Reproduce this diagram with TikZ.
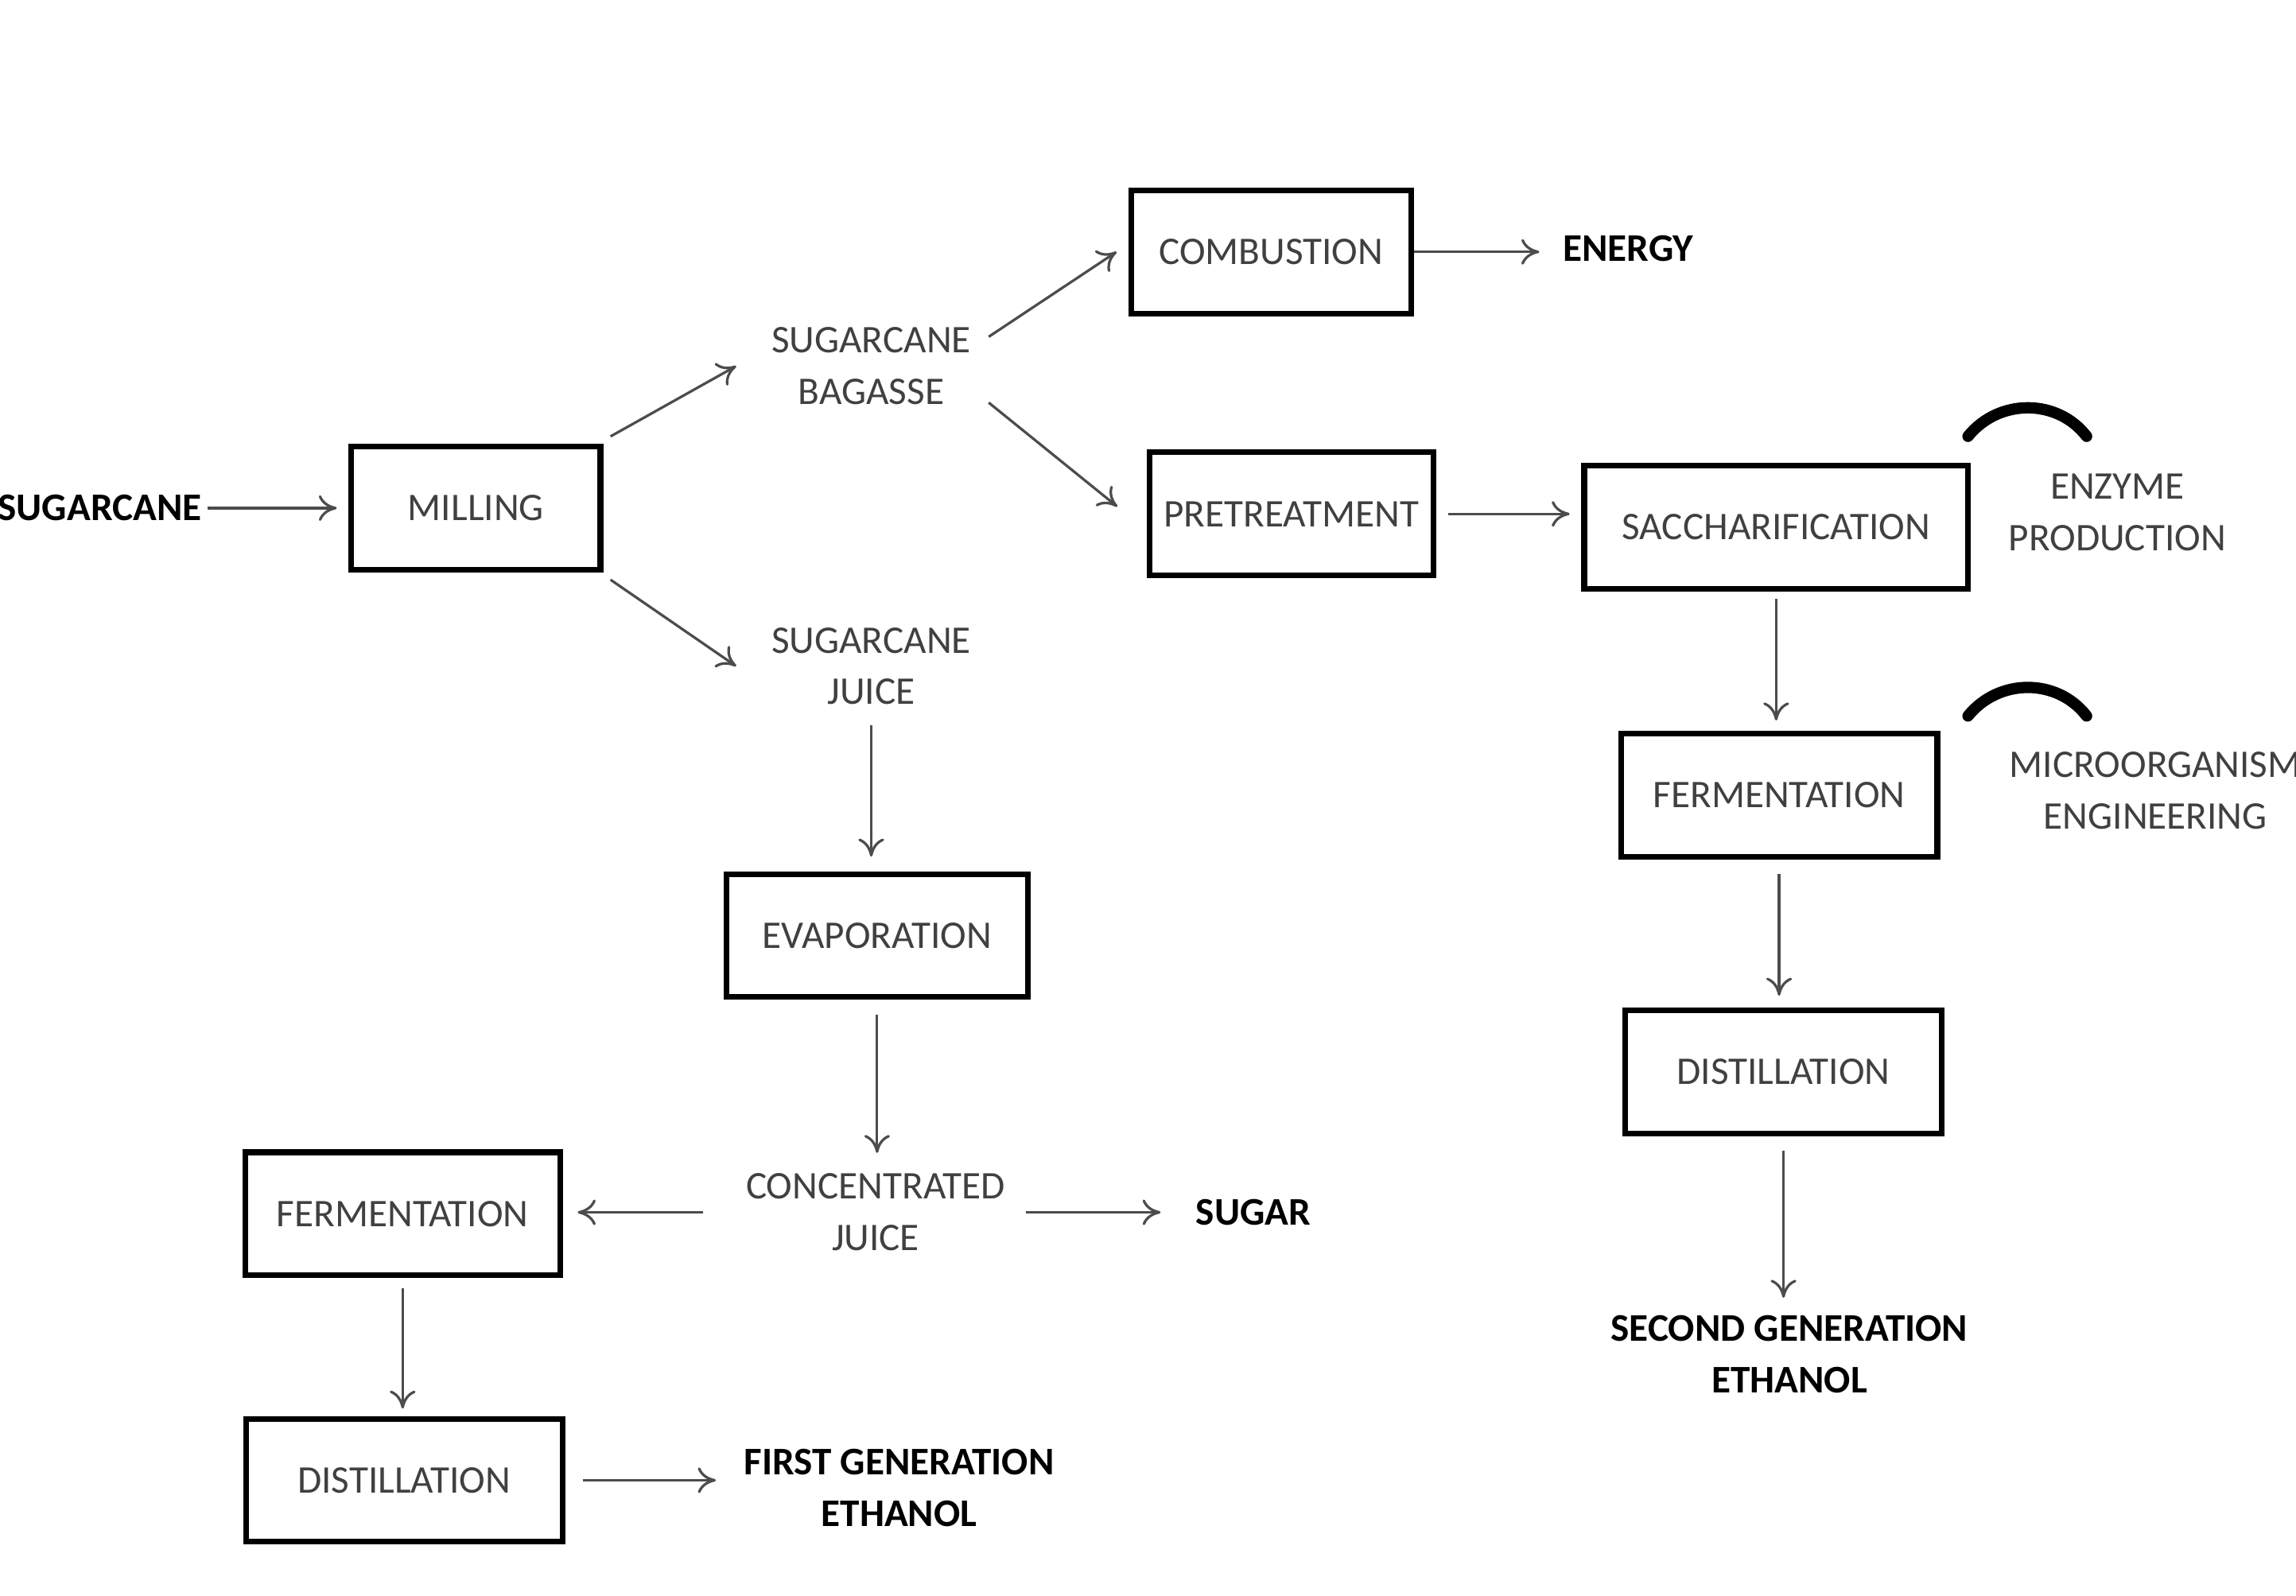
\documentclass[tikz,border=0pt]{standalone}
\usepackage{fontspec}
\setmainfont{Carlito}
\usetikzlibrary{arrows.meta}
\begin{document}
\begin{tikzpicture}[x=0.01cm,y=-0.01cm,
  box/.style={draw,line width=1.1pt,minimum height=0.84cm,inner sep=0pt,font=\fontsize{7.6}{9.5}\selectfont,text=black!75},
  lbl/.style={align=center,font=\fontsize{7.6}{10}\selectfont,text=black!75,inner sep=1pt},
  bold/.style={align=center,font=\fontsize{7.6}{10}\selectfont\bfseries,inner sep=1pt},
  arr/.style={-{To[length=3.5pt,width=5pt]},draw=black!70,line width=0.5pt},
  arc/.style={line width=2.2pt,line cap=round}]
\useasboundingbox (0,0) rectangle (1568,1090);
\node[bold,anchor=east] (cane) at (142,347) {SUGARCANE};
\node[box,minimum width=1.7cm] (mill) at (325,347) {MILLING};
\node[lbl] (bag) at (595,250) {SUGARCANE\\BAGASSE};
\node[lbl] (juice) at (595,455) {SUGARCANE\\JUICE};
\node[box,minimum width=1.91cm] (comb) at (868,172) {COMBUSTION};
\node[bold] (energy) at (1112,170) {ENERGY};
\node[box,minimum width=1.94cm] (pre) at (882,351) {PRETREATMENT};
\node[box,minimum width=2.62cm] (sac) at (1213,360) {SACCHARIFICATION};
\node[lbl] (enz) at (1446,350) {ENZYME\\PRODUCTION};
\node[box,minimum width=2.16cm] (ferm2) at (1215,543) {FERMENTATION};
\node[lbl] (micro) at (1472,540) {MICROORGANISM\\ENGINEERING};
\node[box,minimum width=2.16cm] (dist2) at (1218,732) {DISTILLATION};
\node[bold] (second) at (1222,925) {SECOND GENERATION\\ETHANOL};
\node[box,minimum width=2.06cm] (evap) at (599,639) {EVAPORATION};
\node[lbl] (conc) at (598,828) {CONCENTRATED\\JUICE};
\node[bold] (sugar) at (856,828) {SUGAR};
\node[box,minimum width=2.15cm] (ferm1) at (275,829) {FERMENTATION};
\node[box,minimum width=2.16cm] (dist1) at (276,1011) {DISTILLATION};
\node[bold] (first) at (614,1016) {FIRST GENERATION\\ETHANOL};
% arcs
\draw[arc] (1344,298) .. controls (1365,272) and (1405,272) .. (1425,298);
\draw[arc] (1344,489) .. controls (1365,463) and (1405,463) .. (1425,489);
% arrows
\draw[arr] (cane.east) -- ([xshift=-0.08cm]mill.west);
\draw[arr] ([shift={(5,-5)}]mill.north east) -- ([shift={(-20,0)}]bag.west);
\draw[arr] ([shift={(5,5)}]mill.south east) -- ([shift={(-20,0)}]juice.west);
\draw[arr] ([shift={(8,-20)}]bag.east) -- ([shift={(-8,0)}]comb.west);
\draw[arr] ([shift={(8,25)}]bag.east) -- ([shift={(-20,-5)}]pre.west);
\draw[arr] (comb.east) -- ([xshift=-0.12cm]energy.west|-comb.east);
\draw[arr] ([xshift=0.08cm]pre.east) -- ([xshift=-0.08cm]sac.west|-pre.east);
\draw[arr] ([yshift=-0.05cm]sac.south) -- ([shift={(0,0.07cm)}]sac.south|-ferm2.north);
\draw[arr] ([yshift=-0.1cm]ferm2.south) -- ([yshift=0.08cm]ferm2.south|-dist2.north);
\draw[arr] ([yshift=-0.1cm]dist2.south) -- ([yshift=0.08cm]dist2.south|-second.north);
\draw[arr] ([yshift=-0.1cm]juice.south) -- ([yshift=0.1cm]juice.south|-evap.north);
\draw[arr] ([yshift=-0.1cm]evap.south) -- ([yshift=0.1cm]evap.south|-conc.north);
\draw[arr] ([xshift=-0.25cm]conc.west) -- ([xshift=0.1cm]ferm1.east|-conc.west);
\draw[arr] ([xshift=0.1cm]conc.east) -- ([xshift=-0.2cm]sugar.west|-conc.east);
\draw[arr] ([yshift=-0.07cm]ferm1.south) -- ([yshift=0.05cm]ferm1.south|-dist1.north);
\draw[arr] ([xshift=0.12cm]dist1.east) -- ([xshift=-0.15cm]first.west|-dist1.east);
\end{tikzpicture}
\end{document}
